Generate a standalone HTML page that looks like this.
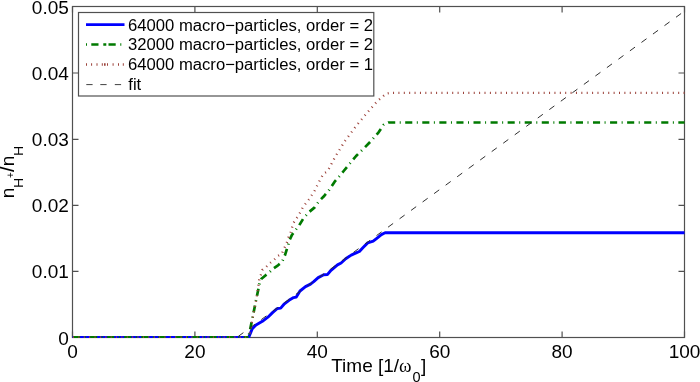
<!DOCTYPE html>
<html><head><meta charset="utf-8"><style>
html,body{margin:0;padding:0;background:#fff;width:700px;height:382px;overflow:hidden}
svg{display:block}
text{font-family:"Liberation Sans",Arial,sans-serif;fill:#000}
</style></head><body>
<svg width="700" height="382" viewBox="0 0 700 382">
<rect width="700" height="382" fill="#fff"/>
<path d="M72.50 337.5V331.5M72.50 6.5V12.5M194.90 337.5V331.5M194.90 6.5V12.5M317.30 337.5V331.5M317.30 6.5V12.5M439.70 337.5V331.5M439.70 6.5V12.5M562.10 337.5V331.5M562.10 6.5V12.5M684.50 337.5V331.5M684.50 6.5V12.5M72.5 337.50H78.5M684.5 337.50H678.5M72.5 271.40H78.5M684.5 271.40H678.5M72.5 205.40H78.5M684.5 205.40H678.5M72.5 139.40H78.5M684.5 139.40H678.5M72.5 73.00H78.5M684.5 73.00H678.5M72.5 6.50H78.5M684.5 6.50H678.5" stroke="#505050" stroke-width="1.2" fill="none"/>
<rect x="72.5" y="6.5" width="612.0" height="331.0" fill="none" stroke="#505050" stroke-width="1.2"/>
<defs><clipPath id="ax"><rect x="72" y="6" width="613" height="332"/></clipPath></defs>
<g fill="none" stroke-linejoin="round" clip-path="url(#ax)">
<polyline points="72.50,337.40 248.70,337.40 252.30,328.60 256.00,325.00 262.40,321.30 267.90,317.20 272.50,312.60 277.10,308.60 280.70,308.10 284.40,303.80 289.00,300.30 293.60,297.60 296.30,297.10 300.00,291.00 305.50,286.60 310.50,284.10 313.70,281.60 318.20,277.60 323.70,274.80 327.40,274.60 331.00,270.30 337.50,264.90 341.10,263.00 345.70,258.80 351.20,255.10 356.70,252.60 359.40,251.50 363.10,247.50 367.70,242.90 373.20,241.10 376.80,238.30 381.40,234.60 385.10,232.80 390.00,232.80 684.50,232.80" stroke="#0000ff" stroke-width="2.9"/>
<polyline points="72.50,337.40 248.50,337.40" stroke="#007a00" stroke-width="2.7" stroke-dasharray="7.1 4.5 1 4.47" stroke-dashoffset="-0.5"/>
<polyline points="248.50,337.40 258.40,288.90 259.90,281.80 261.50,278.70 265.40,275.50 269.30,272.40 273.30,268.50 278.00,265.30 281.90,262.20 285.00,255.10 287.40,247.30 289.80,239.40 292.10,234.70 295.10,230.60 298.80,226.00 303.30,218.60 308.90,212.20 314.40,207.60 319.00,201.20 324.40,195.70 329.00,190.20 334.50,181.90 340.00,175.50 343.70,171.00 349.90,163.50 356.10,156.00 364.90,147.30 371.10,141.00 378.60,132.30 383.50,124.90 388.50,122.50 684.50,122.50" stroke="#007a00" stroke-width="2.7" stroke-dasharray="7.1 4.5 1 4.47" stroke-dashoffset="8.68"/>
<polyline points="72.50,337.40 249.00,337.40" stroke="#9c423a" stroke-width="2.3" stroke-dasharray="1.0 4.38" stroke-dashoffset="-0.5"/>
<polyline points="249.00,337.40 257.00,295.40 259.10,280.30 260.70,275.50 262.30,270.00 266.20,266.90 270.10,263.00 274.10,259.80 278.00,255.90 281.90,253.60 284.30,248.10 286.60,243.40 288.20,237.90 290.50,233.10 293.30,223.20 298.80,215.00 303.30,206.70 308.90,199.40 314.40,191.10 318.00,183.80 323.50,173.70 326.20,172.20 329.00,168.50 335.00,157.20 344.90,141.00 356.10,126.10 367.40,112.40 377.30,101.20 386.00,93.70 391.00,92.80 684.50,92.80" stroke="#9c423a" stroke-width="2.3" stroke-dasharray="1.0 4.38" stroke-dashoffset="1.30"/>
<polyline points="237.00,337.30 684.50,11.05" stroke="#303030" stroke-width="1" stroke-dasharray="6.3 7.955" stroke-dashoffset="12.66"/>
</g>
<g font-size="19"><text x="68.8" y="344.50" text-anchor="end">0</text><text x="68.8" y="278.40" text-anchor="end">0.01</text><text x="68.8" y="212.40" text-anchor="end">0.02</text><text x="68.8" y="146.40" text-anchor="end">0.03</text><text x="68.8" y="80.00" text-anchor="end">0.04</text><text x="68.8" y="13.50" text-anchor="end">0.05</text><text x="72.50" y="358.3" text-anchor="middle">0</text><text x="194.90" y="358.3" text-anchor="middle">20</text><text x="317.30" y="358.3" text-anchor="middle">40</text><text x="439.70" y="358.3" text-anchor="middle">60</text><text x="562.10" y="358.3" text-anchor="middle">80</text><text x="684.50" y="358.3" text-anchor="middle">100</text></g>
<g id="legend">
<rect x="78.5" y="12.5" width="295.3" height="83.5" fill="#fff" stroke="#505050" stroke-width="1.2"/>
<line x1="86" y1="24.6" x2="124.5" y2="24.6" stroke="#0000ff" stroke-width="2.6"/>
<g stroke="#007a00" stroke-width="2.7">
<path d="M86 44.5h1M91.3 44.5h7.2M103.3 44.5h3M108.5 44.5h7.2M120.3 44.5h1"/>
</g>
<g stroke="#9c423a" stroke-width="2.5">
<path d="M86 64.6h1M91.1 64.6h1M96.5 64.6h1M101.8 64.6h1M104 64.6h1.6M107 64.6h1M112.6 64.6h1M118 64.6h1M122.8 64.6h1"/>
</g>
<path d="M86.3 84.6h6.3M100.3 84.6h6.3M114.8 84.6h6.3" stroke="#404040" stroke-width="1"/>
<g font-size="16.65">
<text x="128" y="30.5">64000 macro−particles, order = 2</text>
<text x="128" y="50.1">32000 macro−particles, order = 2</text>
<text x="128" y="70.4">64000 macro−particles, order = 1</text>
<text x="128.3" y="90.4">fit</text>
</g>
</g>
<text font-size="19" x="331.2" y="371.8">Time [1/<tspan font-family="'Liberation Serif', serif">ω</tspan><tspan font-size="14.5" dx="0.8" dy="9.9">0</tspan><tspan dx="0.6" dy="-9.9">]</tspan></text>
<g transform="rotate(-90)">
<text font-size="19" x="-198.3" y="14.1">n</text>
<text font-size="13.5" x="-187.8" y="23.1">H</text>
<text font-size="10" x="-178" y="13.55">+</text>
<text font-size="21.5" x="-172.1" y="14.3">/</text>
<text font-size="19" x="-166.3" y="14.1">n</text>
<text font-size="13.5" x="-155.7" y="23.1">H</text>
</g>
</svg>
</body></html>
